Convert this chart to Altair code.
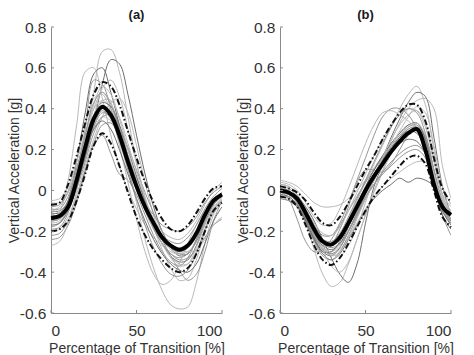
import altair as alt
import pandas as pd

FONT = "Liberation Sans"
X = list(range(0, 101, 5))
X_TICKS = [0, 50, 100]
Y_TICKS = [-0.6, -0.4, -0.2, 0, 0.2, 0.4, 0.6, 0.8]

# ---------------- panel (a) ----------------
A_MEAN = [-0.135, -0.125, -0.08, 0.05, 0.21, 0.35, 0.41, 0.37, 0.27, 0.14, 0.02,
          -0.08, -0.16, -0.23, -0.27, -0.29, -0.27, -0.21, -0.12, -0.05, -0.02]
A_UPPER = [-0.07, -0.06, 0.03, 0.17, 0.33, 0.47, 0.53, 0.51, 0.42, 0.29, 0.16,
           0.04, -0.06, -0.14, -0.19, -0.20, -0.17, -0.11, -0.04, 0.01, 0.02]
A_LOWER = [-0.20, -0.19, -0.15, -0.05, 0.08, 0.22, 0.28, 0.23, 0.12, -0.01, -0.13,
           -0.22, -0.29, -0.34, -0.38, -0.40, -0.38, -0.31, -0.20, -0.10, -0.06]
A_TRIALS = [
    [-0.15, -0.14, -0.08, 0.06, 0.25, 0.48, 0.68, 0.69, 0.58, 0.36, 0.14, -0.04, -0.18, -0.29, -0.38, -0.44, -0.43, -0.34, -0.20, -0.09, -0.04],
    [-0.10, -0.10, -0.06, 0.03, 0.16, 0.33, 0.52, 0.64, 0.62, 0.47, 0.27, 0.08, -0.08, -0.20, -0.28, -0.32, -0.31, -0.24, -0.14, -0.06, -0.01],
    [-0.12, -0.10, 0.05, 0.32, 0.58, 0.60, 0.45, 0.27, 0.12, 0.00, -0.09, -0.17, -0.23, -0.27, -0.30, -0.31, -0.28, -0.21, -0.13, -0.06, -0.02],
    [-0.14, -0.13, -0.05, 0.14, 0.38, 0.57, 0.60, 0.48, 0.32, 0.17, 0.04, -0.08, -0.18, -0.26, -0.32, -0.35, -0.34, -0.27, -0.16, -0.07, -0.02],
    [-0.18, -0.16, -0.08, 0.08, 0.30, 0.54, 0.52, 0.40, 0.26, 0.13, 0.01, -0.10, -0.19, -0.26, -0.31, -0.33, -0.31, -0.25, -0.16, -0.09, -0.05],
    [-0.20, -0.19, -0.13, -0.02, 0.12, 0.25, 0.36, 0.43, 0.45, 0.38, 0.22, 0.04, -0.12, -0.24, -0.32, -0.36, -0.36, -0.30, -0.20, -0.11, -0.06],
    [-0.22, -0.21, -0.15, -0.04, 0.10, 0.22, 0.27, 0.18, 0.08, 0.05, -0.02, -0.12, -0.22, -0.30, -0.35, -0.37, -0.33, -0.24, -0.14, -0.07, -0.03],
    [-0.16, -0.15, -0.09, 0.05, 0.22, 0.40, 0.48, 0.43, 0.30, 0.13, -0.06, -0.24, -0.38, -0.49, -0.56, -0.58, -0.57, -0.45, -0.26, -0.12, -0.05],
    [-0.10, -0.08, 0.00, 0.14, 0.32, 0.45, 0.47, 0.38, 0.22, 0.04, -0.14, -0.30, -0.41, -0.46, -0.44, -0.36, -0.26, -0.17, -0.10, -0.05, -0.02],
    [-0.12, -0.12, -0.07, 0.04, 0.18, 0.31, 0.38, 0.36, 0.28, 0.17, 0.06, -0.05, -0.15, -0.24, -0.32, -0.39, -0.44, -0.41, -0.30, -0.15, -0.05],
    [-0.05, -0.04, 0.02, 0.14, 0.28, 0.40, 0.44, 0.40, 0.30, 0.17, 0.05, -0.06, -0.14, -0.20, -0.23, -0.24, -0.21, -0.15, -0.07, 0.00, 0.04],
    [-0.24, -0.23, -0.17, -0.06, 0.09, 0.23, 0.32, 0.33, 0.26, 0.14, 0.02, -0.09, -0.18, -0.26, -0.31, -0.34, -0.33, -0.29, -0.23, -0.17, -0.14],
    [-0.27, -0.25, -0.16, 0.00, 0.17, 0.30, 0.36, 0.34, 0.26, 0.14, 0.02, -0.08, -0.17, -0.24, -0.29, -0.31, -0.30, -0.25, -0.16, -0.09, -0.05],
    [-0.11, -0.11, -0.05, 0.08, 0.24, 0.37, 0.43, 0.41, 0.32, 0.20, 0.07, -0.05, -0.15, -0.23, -0.28, -0.30, -0.28, -0.21, -0.12, -0.05, -0.01],
    [-0.08, -0.07, -0.01, 0.11, 0.25, 0.36, 0.40, 0.36, 0.26, 0.14, 0.03, -0.06, -0.12, -0.17, -0.19, -0.20, -0.18, -0.13, -0.06, -0.01, 0.02],
    [-0.15, -0.14, -0.09, 0.01, 0.14, 0.28, 0.36, 0.37, 0.31, 0.21, 0.10, -0.01, -0.11, -0.20, -0.27, -0.31, -0.31, -0.25, -0.15, -0.07, -0.03],
    [-0.13, -0.12, -0.06, 0.06, 0.21, 0.36, 0.50, 0.54, 0.46, 0.30, 0.13, -0.03, -0.16, -0.26, -0.33, -0.37, -0.36, -0.28, -0.17, -0.08, -0.04],
    [-0.17, -0.16, -0.10, 0.02, 0.17, 0.30, 0.34, 0.30, 0.20, 0.08, -0.04, -0.15, -0.24, -0.31, -0.36, -0.39, -0.40, -0.36, -0.26, -0.15, -0.08],
    [-0.06, -0.06, -0.01, 0.10, 0.26, 0.42, 0.51, 0.47, 0.35, 0.20, 0.05, -0.08, -0.18, -0.24, -0.27, -0.28, -0.26, -0.21, -0.14, -0.06, -0.01],
    [-0.19, -0.18, -0.11, 0.03, 0.19, 0.32, 0.39, 0.35, 0.24, 0.10, -0.04, -0.17, -0.28, -0.36, -0.41, -0.42, -0.39, -0.31, -0.19, -0.10, -0.05],
    [-0.14, -0.13, -0.08, 0.03, 0.19, 0.35, 0.44, 0.44, 0.36, 0.23, 0.09, -0.04, -0.14, -0.22, -0.27, -0.29, -0.30, -0.29, -0.24, -0.17, -0.13],
    [-0.09, -0.09, -0.03, 0.10, 0.27, 0.43, 0.48, 0.42, 0.30, 0.17, 0.04, -0.07, -0.16, -0.22, -0.25, -0.26, -0.23, -0.17, -0.09, -0.03, 0.01],
]
A_SHADES = ["light", "dark", "light", "dark", "mid", "light", "mid", "light", "light", "mid", "light",
            "mid", "light", "dark", "mid", "mid", "light", "dark", "light", "mid", "light", "mid"]

# ---------------- panel (b) ----------------
B_MEAN = [0.00, -0.01, -0.04, -0.11, -0.19, -0.25, -0.265, -0.23, -0.16, -0.08, 0.00,
          0.07, 0.13, 0.19, 0.24, 0.28, 0.30, 0.20, 0.03, -0.08, -0.12]
B_UPPER = [0.02, 0.01, -0.01, -0.05, -0.11, -0.16, -0.17, -0.13, -0.06, 0.02, 0.10,
           0.17, 0.25, 0.32, 0.38, 0.42, 0.42, 0.34, 0.16, 0.01, -0.06]
B_LOWER = [-0.03, -0.04, -0.08, -0.17, -0.27, -0.34, -0.365, -0.33, -0.26, -0.18, -0.10,
           -0.03, 0.02, 0.07, 0.12, 0.16, 0.17, 0.13, 0.00, -0.13, -0.18]
B_TRIALS = [
    [0.02, 0.01, -0.03, -0.10, -0.18, -0.24, -0.26, -0.22, -0.14, -0.05, 0.04, 0.13, 0.22, 0.31, 0.40, 0.47, 0.51, 0.42, 0.20, -0.02, -0.12],
    [0.00, -0.01, -0.05, -0.13, -0.23, -0.30, -0.32, -0.28, -0.20, -0.11, -0.02, 0.07, 0.16, 0.26, 0.35, 0.43, 0.48, 0.46, 0.26, 0.02, -0.12],
    [-0.02, -0.03, -0.07, -0.14, -0.22, -0.28, -0.30, -0.27, -0.20, -0.12, -0.04, 0.05, 0.14, 0.24, 0.33, 0.40, 0.44, 0.45, 0.40, 0.12, -0.04],
    [0.03, 0.02, -0.02, -0.09, -0.17, -0.22, -0.22, -0.16, -0.06, 0.05, 0.16, 0.27, 0.36, 0.40, 0.40, 0.37, 0.30, 0.18, 0.03, -0.10, -0.16],
    [-0.01, -0.02, -0.06, -0.14, -0.24, -0.31, -0.34, -0.31, -0.24, -0.17, -0.10, -0.04, 0.00, 0.03, 0.06, 0.04, 0.06, 0.05, 0.02, -0.08, -0.15],
    [0.01, 0.00, -0.05, -0.15, -0.29, -0.41, -0.47, -0.45, -0.36, -0.24, -0.12, -0.01, 0.09, 0.18, 0.25, 0.30, 0.31, 0.24, 0.09, -0.06, -0.14],
    [0.00, -0.01, -0.03, -0.08, -0.15, -0.24, -0.33, -0.41, -0.45, -0.36, -0.16, 0.02, 0.12, 0.19, 0.23, 0.25, 0.24, 0.18, 0.05, -0.08, -0.15],
    [0.05, 0.04, 0.02, -0.02, -0.06, -0.08, -0.08, -0.07, -0.04, 0.00, 0.05, 0.11, 0.17, 0.23, 0.28, 0.32, 0.33, 0.26, 0.10, -0.04, -0.10],
    [-0.01, -0.02, -0.06, -0.14, -0.23, -0.27, -0.26, -0.19, -0.08, 0.04, 0.10, 0.10, 0.09, 0.13, 0.20, 0.27, 0.31, 0.26, 0.10, -0.06, -0.14],
    [0.00, -0.04, -0.14, -0.25, -0.30, -0.29, -0.24, -0.17, -0.10, -0.03, 0.04, 0.10, 0.16, 0.22, 0.27, 0.31, 0.32, 0.26, 0.10, -0.06, -0.14],
    [0.01, 0.00, -0.04, -0.12, -0.21, -0.28, -0.31, -0.29, -0.23, -0.16, -0.09, -0.03, 0.02, 0.06, 0.09, 0.12, 0.14, 0.14, 0.06, -0.08, -0.17],
    [-0.03, -0.04, -0.08, -0.16, -0.25, -0.32, -0.34, -0.30, -0.22, -0.13, -0.04, 0.05, 0.13, 0.20, 0.26, 0.30, 0.31, 0.24, 0.06, -0.12, -0.22],
    [0.02, 0.01, -0.03, -0.09, -0.16, -0.21, -0.22, -0.18, -0.10, -0.01, 0.08, 0.17, 0.25, 0.32, 0.37, 0.40, 0.39, 0.31, 0.14, -0.02, -0.08],
    [-0.02, -0.03, -0.07, -0.15, -0.24, -0.30, -0.30, -0.25, -0.16, -0.07, 0.02, 0.10, 0.17, 0.23, 0.28, 0.32, 0.33, 0.25, 0.06, -0.10, -0.17],
    [0.00, -0.01, -0.04, -0.10, -0.19, -0.29, -0.37, -0.40, -0.35, -0.24, -0.12, 0.00, 0.10, 0.19, 0.26, 0.31, 0.33, 0.27, 0.10, -0.07, -0.15],
    [0.01, 0.00, -0.04, -0.11, -0.19, -0.24, -0.25, -0.21, -0.13, -0.04, 0.05, 0.14, 0.23, 0.31, 0.37, 0.40, 0.38, 0.28, 0.10, -0.05, -0.11],
    [0.04, 0.03, 0.00, -0.06, -0.13, -0.17, -0.16, -0.09, 0.01, 0.12, 0.23, 0.32, 0.38, 0.39, 0.37, 0.34, 0.30, 0.22, 0.08, -0.05, -0.11],
    [-0.01, -0.02, -0.05, -0.12, -0.20, -0.26, -0.28, -0.26, -0.20, -0.12, -0.04, 0.03, 0.09, 0.14, 0.18, 0.21, 0.22, 0.18, 0.06, -0.08, -0.15],
    [0.02, 0.01, -0.03, -0.10, -0.20, -0.28, -0.32, -0.30, -0.23, -0.14, -0.04, 0.05, 0.14, 0.22, 0.29, 0.36, 0.41, 0.38, 0.22, 0.02, -0.07],
    [-0.04, -0.05, -0.08, -0.14, -0.21, -0.27, -0.29, -0.26, -0.18, -0.09, 0.00, 0.08, 0.15, 0.21, 0.26, 0.29, 0.28, 0.20, 0.03, -0.12, -0.19],
    [0.03, 0.02, -0.02, -0.09, -0.18, -0.26, -0.31, -0.32, -0.27, -0.18, -0.06, 0.06, 0.16, 0.25, 0.32, 0.37, 0.39, 0.33, 0.16, -0.03, -0.10],
    [0.00, -0.01, -0.05, -0.13, -0.22, -0.29, -0.31, -0.28, -0.20, -0.11, -0.03, 0.03, 0.08, 0.12, 0.16, 0.19, 0.20, 0.16, 0.04, -0.09, -0.16],
]
B_SHADES = ["light", "dark", "light", "mid", "dark", "light", "dark", "light", "mid", "mid", "light",
            "mid", "light", "dark", "light", "mid", "light", "mid", "light", "dark", "light", "mid"]

W, H = 171, 286


def panel(trials, shades, mean, upper, lower, label):
    rows = []
    for i, (vals, sh) in enumerate(zip(trials, shades)):
        for x, v in zip(X, vals):
            rows.append({"x": x, "y": v, "curve": i, "shade": sh})
    trial_df = pd.DataFrame(rows)
    sd_rows = []
    for name, vals in (("upper", upper), ("lower", lower)):
        for x, v in zip(X, vals):
            sd_rows.append({"x": x, "y": v, "band": name})
    sd_df = pd.DataFrame(sd_rows)
    mean_df = pd.DataFrame({"x": X, "y": mean})

    xenc = alt.X("x:Q", scale=alt.Scale(domain=[0, 100], nice=False, zero=False),
                 axis=alt.Axis(values=X_TICKS, title="Percentage of Transition [%]"))
    yenc = alt.Y("y:Q", scale=alt.Scale(domain=[-0.6, 0.8], nice=False, zero=False),
                 axis=alt.Axis(values=Y_TICKS, title="Vertical Acceleration [g]", titleX=-30,
                               labelExpr="toString(round(datum.value*10)/10)"))

    trials_layer = alt.Chart(trial_df).mark_line(interpolate="catmull-rom", strokeWidth=1, clip=True).encode(
        x=xenc, y=yenc, detail="curve:N",
        color=alt.Color("shade:N", scale=alt.Scale(domain=["light", "mid", "dark"],
                                                   range=["#b8b8b8", "#959595", "#6e6e6e"]), legend=None),
    )
    sd_layer = alt.Chart(sd_df).mark_line(interpolate="catmull-rom", strokeWidth=2, color="#111",
                                          strokeDash=[6, 2.5, 1.5, 2.5]).encode(
        x="x:Q", y="y:Q", detail="band:N")
    mean_layer = alt.Chart(mean_df).mark_line(interpolate="catmull-rom", strokeWidth=4, color="#000").encode(
        x="x:Q", y="y:Q")
    xt = alt.Chart(pd.DataFrame({"x": X_TICKS})).mark_rule(color="#8a8a8a").encode(
        x="x:Q", y=alt.value(H), y2=alt.value(H - 3))
    yt = alt.Chart(pd.DataFrame({"y": Y_TICKS})).mark_rule(color="#8a8a8a").encode(
        y="y:Q", x=alt.value(0), x2=alt.value(3))
    return alt.layer(trials_layer, sd_layer, mean_layer, xt, yt).properties(
        width=W, height=H,
        title=alt.TitleParams(label, fontSize=13, fontWeight="bold", font=FONT, color="#1a1a1a",
                              offset=-2, frame="group"),
    )


pa = panel(A_TRIALS, A_SHADES, A_MEAN, A_UPPER, A_LOWER, "(a)")
pb = panel(B_TRIALS, B_SHADES, B_MEAN, B_UPPER, B_LOWER, "(b)")

chart = alt.hconcat(pa, pb, spacing=6).properties(
    padding={"left": 7, "top": 9, "right": 3, "bottom": 0}
).configure_view(stroke=None).configure_axis(
    grid=False, ticks=False, domainColor="#8a8a8a", domainWidth=1,
    labelFont=FONT, labelFontSize=15.5, labelColor="#333", labelPadding=5,
    titleFont=FONT, titleFontSize=14, titleFontWeight="normal", titleColor="#333", titlePadding=3,
).configure_axisX(labelPadding=10, titlePadding=3)

chart.save("out.html", embed_options={"renderer": "svg", "actions": False})
